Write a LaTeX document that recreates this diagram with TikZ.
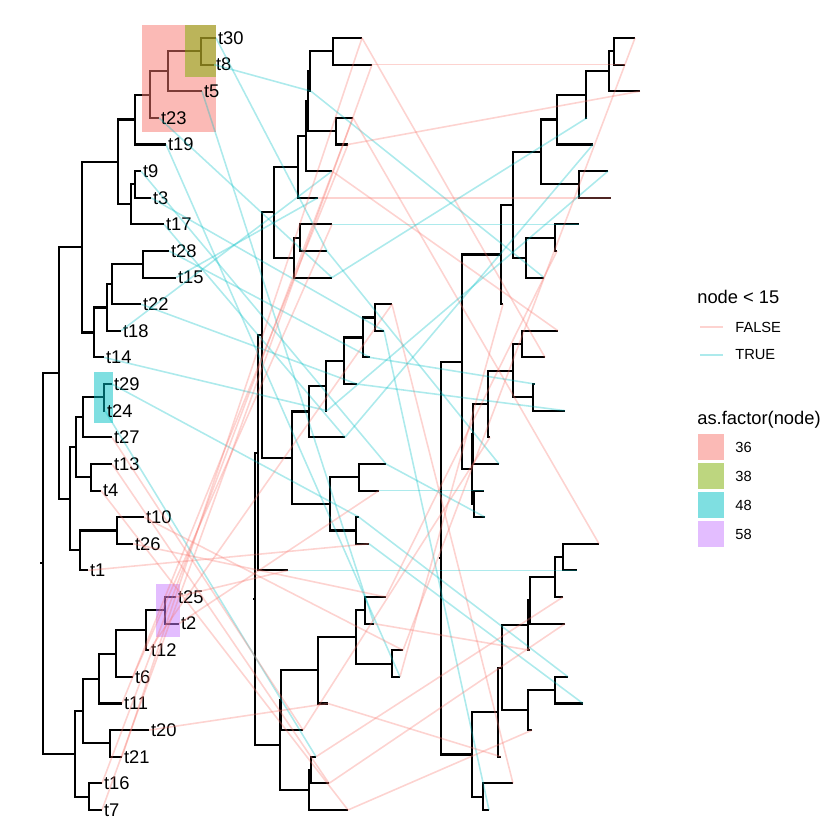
\documentclass[tikz,border=0pt]{standalone}
\usepackage{fontspec}
\setmainfont{Liberation Sans}
\pgfmathdeclarefunction{sl}{1}{\pgfmathparse{38+(#1-1)*26.62}}
\definecolor{cF}{HTML}{F8766D}
\definecolor{cT}{HTML}{00BFC4}
\definecolor{cG}{HTML}{7CAE00}
\definecolor{cP}{HTML}{C77CFF}
\newcommand\ed[2]{\draw[tree] (#1) |- (#2);}
\newcommand\tpt[4]{\coordinate (#1#2) at (#3,{sl(#4)});}
\newcommand\cnx[3]{\draw[ln#3] (#1) -- (#2);}
\begin{document}
\begin{tikzpicture}[x=0.6pt,y=-0.6pt,
  tree/.style={line width=1.25pt,black},
  lnF/.style={draw=cF,draw opacity=0.32,line width=0.95pt},
  lnT/.style={draw=cT,draw opacity=0.32,line width=0.95pt},
  tiplab/.style={anchor=west,inner sep=1pt,font=\fontsize{11}{13}\selectfont},
  legt/.style={anchor=west,inner sep=0pt,font=\fontsize{11}{13}\selectfont},
  legl/.style={anchor=west,inner sep=0pt,font=\fontsize{8.8}{10}\selectfont},
  hl/.style={fill opacity=0.5}]
\useasboundingbox (0,0) rectangle (840,840);
% ---------- left tree tips
\tpt{L}{t30}{216}{1} \tpt{L}{t8}{214}{2} \tpt{L}{t5}{202}{3} \tpt{L}{t23}{159}{4}
\tpt{L}{t19}{166}{5} \tpt{L}{t9}{141}{6} \tpt{L}{t3}{151}{7} \tpt{L}{t17}{164}{8}
\tpt{L}{t28}{169}{9} \tpt{L}{t15}{176}{10} \tpt{L}{t22}{141}{11} \tpt{L}{t18}{121}{12}
\tpt{L}{t14}{104}{13} \tpt{L}{t29}{112}{14} \tpt{L}{t24}{105}{15} \tpt{L}{t27}{112}{16}
\tpt{L}{t13}{112}{17} \tpt{L}{t4}{101}{18} \tpt{L}{t10}{144}{19} \tpt{L}{t26}{133}{20}
\tpt{L}{t1}{88}{21} \tpt{L}{t25}{176}{22} \tpt{L}{t2}{179}{23} \tpt{L}{t12}{149}{24}
\tpt{L}{t6}{133}{25} \tpt{L}{t11}{122}{26} \tpt{L}{t20}{149}{27} \tpt{L}{t21}{122}{28}
\tpt{L}{t16}{102}{29} \tpt{L}{t7}{102}{30}
% left internal
\tpt{}{lJ}{201}{1.5} \tpt{}{lI}{168}{2.25} \tpt{}{lH}{150}{3.125} \tpt{}{lF}{135}{4.0625}
\tpt{}{lK}{135}{6.5} \tpt{}{lG}{131}{7.25} \tpt{}{lD}{118}{5.65625}
\tpt{}{lN}{143}{9.5} \tpt{}{lM}{112}{10.25} \tpt{}{lL}{107}{11.125} \tpt{}{lE}{94}{12.0625}
\tpt{}{lB}{82}{8.859375} \tpt{}{lU}{104}{14.5} \tpt{}{lS}{83}{15.25} \tpt{}{lT}{91}{17.5}
\tpt{}{lP}{76}{16.375} \tpt{}{lV}{117}{19.5} \tpt{}{lQ}{80}{20.25} \tpt{}{lC}{70}{18.3125}
\tpt{}{lA}{59}{13.5859} \tpt{}{lAD}{165}{22.5} \tpt{}{lAC}{146}{23.25} \tpt{}{lAB}{116}{24.125}
\tpt{}{lZ}{99}{25.0625} \tpt{}{lAA}{110}{27.5} \tpt{}{lX}{83}{26.28125} \tpt{}{lY}{89}{29.5}
\tpt{}{lW}{75}{27.890625} \tpt{}{lR}{43}{20.738} \tpt{}{lRs}{40}{20.738}
\ed{lJ}{Lt30}\ed{lJ}{Lt8}\ed{lI}{lJ}\ed{lI}{Lt5}\ed{lH}{lI}\ed{lH}{Lt23}
\ed{lF}{lH}\ed{lF}{Lt19}\ed{lK}{Lt9}\ed{lK}{Lt3}\ed{lG}{lK}\ed{lG}{Lt17}
\ed{lD}{lF}\ed{lD}{lG}\ed{lN}{Lt28}\ed{lN}{Lt15}\ed{lM}{lN}\ed{lM}{Lt22}
\ed{lL}{lM}\ed{lL}{Lt18}\ed{lE}{lL}\ed{lE}{Lt14}\ed{lB}{lD}\ed{lB}{lE}
\ed{lU}{Lt29}\ed{lU}{Lt24}\ed{lS}{lU}\ed{lS}{Lt27}\ed{lT}{Lt13}\ed{lT}{Lt4}
\ed{lP}{lS}\ed{lP}{lT}\ed{lV}{Lt10}\ed{lV}{Lt26}\ed{lQ}{lV}\ed{lQ}{Lt1}
\ed{lC}{lP}\ed{lC}{lQ}\ed{lA}{lB}\ed{lA}{lC}
\ed{lAD}{Lt25}\ed{lAD}{Lt2}\ed{lAC}{lAD}\ed{lAC}{Lt12}\ed{lAB}{lAC}\ed{lAB}{Lt6}
\ed{lZ}{lAB}\ed{lZ}{Lt11}\ed{lAA}{Lt20}\ed{lAA}{Lt21}\ed{lX}{lZ}\ed{lX}{lAA}
\ed{lY}{Lt16}\ed{lY}{Lt7}\ed{lW}{lX}\ed{lW}{lY}\ed{lR}{lA}\ed{lR}{lW}
\draw[tree] (lRs) -- (lR);
% ---------- middle tree
\tpt{M}{1}{362}{1} \tpt{M}{2}{372}{2} \tpt{M}{3}{311}{3} \tpt{M}{4}{353}{4} \tpt{M}{5}{348}{5}
\tpt{M}{6}{332}{6} \tpt{M}{7}{318}{7} \tpt{M}{8}{332}{8} \tpt{M}{9}{327}{9} \tpt{M}{10}{332}{10}
\tpt{M}{11}{392}{11} \tpt{M}{12}{384}{12} \tpt{M}{13}{370}{13} \tpt{M}{14}{357}{14} \tpt{M}{15}{327}{15}
\tpt{M}{16}{345}{16} \tpt{M}{17}{386}{17} \tpt{M}{18}{379}{18} \tpt{M}{19}{359}{19} \tpt{M}{20}{369}{20}
\tpt{M}{21}{288}{21} \tpt{M}{22}{386}{22} \tpt{M}{23}{374}{23} \tpt{M}{24}{403}{24} \tpt{M}{25}{400}{25}
\tpt{M}{26}{328}{26} \tpt{M}{27}{303}{27} \tpt{M}{28}{316}{28} \tpt{M}{29}{329}{29} \tpt{M}{30}{348}{30}
\tpt{}{mA}{333}{1.5} \tpt{}{mB}{310}{2.25} \tpt{}{mC}{336}{4.5} \tpt{}{mD}{308}{3.375}
\tpt{}{mE}{306}{4.6875} \tpt{}{mF}{298}{5.84375} \tpt{}{mG}{300}{8.5} \tpt{}{mH}{294}{9.25}
\tpt{}{mI}{274}{7.546875} \tpt{}{mJ}{375}{11.5} \tpt{}{mK}{363}{12.25} \tpt{}{mL}{344}{13.125}
\tpt{}{mM}{326}{14.0625} \tpt{}{mN}{309}{15.03125} \tpt{}{mO}{359}{17.5} \tpt{}{mP}{356}{19.5}
\tpt{}{mQ}{330}{18.5} \tpt{}{mR}{292}{16.765625} \tpt{}{mS}{262}{12.15625} \tpt{}{mT}{258}{16.578125}
\tpt{}{mU}{365}{22.5} \tpt{}{mV}{392}{24.5} \tpt{}{mW}{356}{23.5} \tpt{}{mX}{318}{24.75}
\tpt{}{mY}{281}{25.875} \tpt{}{mZ}{311}{28.5} \tpt{}{mZZ}{309}{29.25} \tpt{}{mAA}{280}{27.5625}
\tpt{}{mR0}{255}{22.0703} \tpt{}{mRs}{253}{22.0703}
\ed{mA}{M1}\ed{mA}{M2}\ed{mB}{mA}\ed{mB}{M3}\ed{mC}{M4}\ed{mC}{M5}\ed{mD}{mB}\ed{mD}{mC}
\ed{mE}{mD}\ed{mE}{M6}\ed{mF}{mE}\ed{mF}{M7}\ed{mG}{M8}\ed{mG}{M9}\ed{mH}{mG}\ed{mH}{M10}
\ed{mI}{mF}\ed{mI}{mH}\ed{mJ}{M11}\ed{mJ}{M12}\ed{mK}{mJ}\ed{mK}{M13}\ed{mL}{mK}\ed{mL}{M14}
\ed{mM}{mL}\ed{mM}{M15}\ed{mN}{mM}\ed{mN}{M16}\ed{mO}{M17}\ed{mO}{M18}\ed{mP}{M19}\ed{mP}{M20}
\ed{mQ}{mO}\ed{mQ}{mP}\ed{mR}{mN}\ed{mR}{mQ}\ed{mS}{mI}\ed{mS}{mR}\ed{mT}{mS}\ed{mT}{M21}
\ed{mU}{M22}\ed{mU}{M23}\ed{mV}{M24}\ed{mV}{M25}\ed{mW}{mU}\ed{mW}{mV}\ed{mX}{mW}\ed{mX}{M26}
\ed{mY}{mX}\ed{mY}{M27}\ed{mZ}{M28}\ed{mZ}{M29}\ed{mZZ}{mZ}\ed{mZZ}{M30}\ed{mAA}{mY}\ed{mAA}{mZZ}
\ed{mR0}{mT}\ed{mR0}{mAA}
\draw[tree] (mRs) -- (mR0);
% ---------- right tree
\tpt{R}{1}{635}{1} \tpt{R}{2}{625}{2} \tpt{R}{3}{640}{3} \tpt{R}{4}{587}{4} \tpt{R}{5}{593}{5}
\tpt{R}{6}{608}{6} \tpt{R}{7}{611}{7} \tpt{R}{8}{579}{8} \tpt{R}{9}{557}{9} \tpt{R}{10}{544}{10}
\tpt{R}{11}{503}{11} \tpt{R}{12}{558}{12} \tpt{R}{13}{545}{13} \tpt{R}{14}{535}{14} \tpt{R}{15}{565}{15}
\tpt{R}{16}{490}{16} \tpt{R}{17}{499}{17} \tpt{R}{18}{484}{18} \tpt{R}{19}{485}{19} \tpt{R}{20}{599}{20}
\tpt{R}{21}{577}{21} \tpt{R}{22}{563}{22} \tpt{R}{23}{565}{23} \tpt{R}{24}{530}{24} \tpt{R}{25}{568}{25}
\tpt{R}{26}{583}{26} \tpt{R}{27}{532}{27} \tpt{R}{28}{501}{28} \tpt{R}{29}{513}{29} \tpt{R}{30}{489}{30}
\tpt{}{rA}{614}{1.5} \tpt{}{rB}{609}{2.25} \tpt{}{rC}{586}{3.125} \tpt{}{rD}{557}{4.0625}
\tpt{}{rE}{579}{6.5} \tpt{}{rF}{541}{5.28125} \tpt{}{rG}{555}{8.5} \tpt{}{rH}{526}{9.25}
\tpt{}{rI}{513}{7.265625} \tpt{}{rJ}{501}{9.1328} \tpt{}{rK}{522}{12.5} \tpt{}{rL}{533}{14.5}
\tpt{}{rM}{513}{13.5} \tpt{}{rN}{488}{14.75} \tpt{}{rO}{473}{15.875} \tpt{}{rP}{474}{18.5}
\tpt{}{rQ}{472}{17.1875} \tpt{}{rR}{462}{13.16} \tpt{}{rS}{563}{20.5} \tpt{}{rT}{555}{21.25}
\tpt{}{rU}{530}{22.125} \tpt{}{rV}{528}{23.0625} \tpt{}{rW}{555}{25.5} \tpt{}{rX}{528}{26.25}
\tpt{}{rY}{502}{24.65625} \tpt{}{rZ}{498}{26.328} \tpt{}{rAA}{483}{29.5} \tpt{}{rBB}{472}{27.914}
\tpt{}{rR0}{441}{20.55} \tpt{}{rRs}{439}{20.55}
\ed{rA}{R1}\ed{rA}{R2}\ed{rB}{rA}\ed{rB}{R3}\ed{rC}{rB}\ed{rC}{R4}\ed{rD}{rC}\ed{rD}{R5}
\ed{rE}{R6}\ed{rE}{R7}\ed{rF}{rD}\ed{rF}{rE}\ed{rG}{R8}\ed{rG}{R9}\ed{rH}{rG}\ed{rH}{R10}
\ed{rI}{rF}\ed{rI}{rH}\ed{rJ}{rI}\ed{rJ}{R11}\ed{rK}{R12}\ed{rK}{R13}\ed{rL}{R14}\ed{rL}{R15}
\ed{rM}{rK}\ed{rM}{rL}\ed{rN}{rM}\ed{rN}{R16}\ed{rO}{rN}\ed{rO}{R17}\ed{rP}{R18}\ed{rP}{R19}
\ed{rQ}{rO}\ed{rQ}{rP}\ed{rR}{rJ}\ed{rR}{rQ}\ed{rS}{R20}\ed{rS}{R21}\ed{rT}{rS}\ed{rT}{R22}
\ed{rU}{rT}\ed{rU}{R23}\ed{rV}{rU}\ed{rV}{R24}\ed{rW}{R25}\ed{rW}{R26}\ed{rX}{rW}\ed{rX}{R27}
\ed{rY}{rV}\ed{rY}{rX}\ed{rZ}{rY}\ed{rZ}{R28}\ed{rAA}{R29}\ed{rAA}{R30}\ed{rBB}{rZ}\ed{rBB}{rAA}
\ed{rR0}{rR}\ed{rR0}{rBB}
\draw[tree] (rRs) -- (rR0);
% ---------- highlights
\fill[hl,cF] (142,25) rectangle (216,132);
\fill[hl,cG] (185,25) rectangle (216,77);
\fill[hl,cT] (94,372) rectangle (113,423);
\fill[hl,cP] (156,584) rectangle (180,637);
% ---------- tip labels
\foreach \t in {t30,t8,t5,t23,t19,t9,t3,t17,t28,t15,t22,t18,t14,t29,t24,t27,t13,t4,t10,t26,t1,t25,t2,t12,t6,t11,t20,t21,t16,t7}
  {\node[tiplab] (n\t) at (L\t) {\t};}
% ---------- connectors left -> middle
\cnx{Lt30}{M9}{T} \cnx{Lt8}{M3}{T} \cnx{Lt5}{M23}{T} \cnx{Lt23}{M10}{T} \cnx{Lt19}{M25}{T}
\cnx{Lt9}{M17}{T} \cnx{Lt3}{M12}{T} \cnx{Lt17}{M16}{T} \cnx{Lt28}{M13}{T} \cnx{Lt15}{M7}{T}
\cnx{Lt22}{M14}{T} \cnx{Lt18}{M6}{T} \cnx{Lt14}{M15}{T} \cnx{Lt29}{M19}{T} \cnx{Lt24}{M28}{T}
\cnx{Lt27}{M27}{F} \cnx{Lt13}{M29}{F} \cnx{Lt4}{M30}{F} \cnx{Lt10}{M24}{F} \cnx{Lt26}{M22}{F}
\cnx{Lt1}{M20}{F} \cnx{Lt25}{M21}{F} \cnx{Lt2}{M18}{F} \cnx{Lt12}{M11}{F} \cnx{Lt6}{M8}{F}
\cnx{Lt11}{M5}{F} \cnx{Lt20}{M26}{F} \cnx{Lt21}{M1}{F} \cnx{Lt16}{M4}{F} \cnx{Lt7}{M2}{F}
% ---------- connectors middle -> right
\cnx{M1}{R13}{F} \cnx{M2}{R2}{F} \cnx{M3}{R10}{T} \cnx{M4}{R20}{F} \cnx{M5}{R3}{F}
\cnx{M6}{R12}{F} \cnx{M7}{R7}{F} \cnx{M8}{R8}{T} \cnx{M9}{R17}{T} \cnx{M10}{R4}{T}
\cnx{M11}{R29}{F} \cnx{M12}{R30}{T} \cnx{M13}{R14}{T} \cnx{M14}{R15}{T} \cnx{M15}{R6}{T}
\cnx{M16}{R5}{T} \cnx{M17}{R19}{T} \cnx{M18}{R18}{T} \cnx{M19}{R25}{T} \cnx{M20}{R26}{T}
\cnx{M21}{R21}{T} \cnx{M22}{R9}{F} \cnx{M23}{R24}{F} \cnx{M24}{R1}{F} \cnx{M25}{R11}{F}
\cnx{M26}{R28}{F} \cnx{M27}{R16}{F} \cnx{M28}{R22}{F} \cnx{M29}{R23}{F} \cnx{M30}{R27}{F}
% ---------- legend
\node[legt] (lg1) at (697,297) {node < 15};
\coordinate (kf1) at (700,327); \coordinate (kf2) at (723,327);
\coordinate (kt1) at (700,355); \coordinate (kt2) at (723,355);
\draw[lnF] (kf1) -- (kf2); \draw[lnT] (kt1) -- (kt2);
\node[legl] (lgF) at (735,327) {FALSE};
\node[legl] (lgT) at (735,355) {TRUE};
\node[legt] (lg2) at (697,420) {as.factor(node)};
\fill[hl,cF] (698,434) rectangle (724,460);
\fill[hl,cG] (698,463) rectangle (724,489);
\fill[hl,cT] (698,492) rectangle (724,518);
\fill[hl,cP] (698,521) rectangle (724,547);
\node[legl] (lg36) at (735,447) {36};
\node[legl] (lg38) at (735,476) {38};
\node[legl] (lg48) at (735,505) {48};
\node[legl] (lg58) at (735,534) {58};
\end{tikzpicture}
\end{document}
